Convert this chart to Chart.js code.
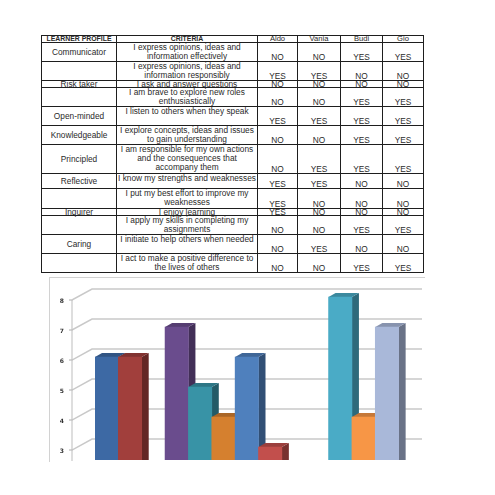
<!DOCTYPE html>
<html lang="en">
<head>
  <meta charset="UTF-8">
  <title>Learner profile</title>
  <script src="https://cdn.jsdelivr.net/npm/chart.js"></script>
  <style>
    body {
      margin: 0;
      width: 495px;
      height: 495px;
      background: #fff;
      position: relative;
      overflow: hidden;
      font-family: 'Liberation Sans', Arial, sans-serif;
      color: #2a2a2a;
    }

    #profile {
      position: absolute;
      left: 41px;
      top: 35px;
      width: 382px;
      border-collapse: collapse;
      table-layout: fixed;
      font-size: 8.3px;
      line-height: 9px;
    }

    #profile td {
      border: 1px solid #1e1e1e;
      padding: 0;
      text-align: center;
      overflow: hidden;
      white-space: pre;
    }

    #profile td.who { vertical-align: middle; }
    #profile td.crit { vertical-align: top; }
    #profile td.ans { vertical-align: bottom; line-height: 8px; }
    #profile tr.head td { font-weight: bold; font-size: 6.9px; line-height: 6px; vertical-align: middle; }
    #profile tr.head td.name { font-weight: normal; font-size: 7.6px; }
    #profile tr.thin td { line-height: 6px; vertical-align: middle; overflow: visible; }

    #frame {
      position: absolute;
      left: 49px;
      top: 277px;
      width: 375px;
      height: 184px;
      border-left: 1px solid #d2d2d2;
      border-top: 1px solid #d2d2d2;
      overflow: hidden;
    }

    #chart { display: block; }
  </style>
</head>
<body>
  <table id="profile">
    <colgroup>
      <col style="width:75px"><col style="width:141px"><col style="width:40px">
      <col style="width:43px"><col style="width:42px"><col style="width:41px">
    </colgroup>
    <tbody id="rows"></tbody>
  </table>

  <div id="frame">
    <canvas id="chart" width="373" height="184"></canvas>
  </div>

  <script>
    // table text
    const headers = ['LEARNER PROFILE', 'CRITERIA', 'Aldo', 'Vania', 'Budi', 'Gio'];
    const profiles = ['Communicator', '', 'Risk taker', '', 'Open-minded', 'Knowledgeable', 'Principled',
                      'Reflective', '', 'Inquirer', '', 'Caring', ''];
    const criteria = [
      'I express opinions, ideas and\ninformation effectively',
      'I express opinions, ideas and\ninformation responsibly',
      'I ask and answer questions',
      'I am brave to explore new roles\nenthusiastically',
      'I listen to others when they speak',
      'I explore concepts, ideas and issues\nto gain understanding',
      'I am responsible for my own actions\nand the consequences that\naccompany them',
      'I know my strengths and weaknesses',
      'I put my best effort to improve my\nweaknesses',
      'I enjoy learning',
      'I apply my skills in completing my\nassignments',
      'I initiate to help others when needed',
      'I act to make a positive difference to\nthe lives of others'
    ];
    const aldo  = ['NO', 'YES', 'NO', 'NO', 'YES', 'NO', 'NO', 'YES', 'YES', 'YES', 'NO', 'NO', 'NO'];
    const vania = ['NO', 'YES', 'NO', 'NO', 'YES', 'NO', 'YES', 'YES', 'NO', 'NO', 'NO', 'YES', 'NO'];
    const budi  = ['YES', 'NO', 'NO', 'YES', 'YES', 'YES', 'YES', 'NO', 'NO', 'NO', 'YES', 'NO', 'YES'];
    const gio   = ['YES', 'NO', 'NO', 'YES', 'YES', 'YES', 'YES', 'NO', 'NO', 'NO', 'YES', 'NO', 'YES'];
    const rowHeights = [19, 19, 7, 19, 19, 18, 29, 15, 20, 7, 19, 19, 19];

    // chart values
    const yTicks = [3, 4, 5, 6, 7, 8];
    const yMin = 2.57;
    const yMax = 8.4;
    const groupA = [6, 6];
    const groupB = [7, 5, 4, 6, 3];
    const groupC = [8, 4, 7];
    const colorsA = ['#3d69a4', '#a13f3c'];
    const colorsB = ['#6a4c8d', '#3893a6', '#d5802f', '#4f80bd', '#c24f4c'];
    const colorsC = ['#4aabc6', '#f79646', '#a9b8d9'];

    function buildTable() {
      const body = document.getElementById('rows');
      let html = '<tr class="head" style="height:7px">' + headers.map((h, i) =>
        `<td class="${i > 1 ? 'name' : ''}">${h}</td>`).join('') + '</tr>';
      profiles.forEach((p, i) => {
        const thin = rowHeights[i] < 10 ? ' class="thin"' : '';
        html += `<tr${thin} style="height:${rowHeights[i]}px">` +
          `<td class="who">${p}</td><td class="crit">${criteria[i]}</td>` +
          [aldo[i], vania[i], budi[i], gio[i]].map(a => `<td class="ans">${a}</td>`).join('') +
          '</tr>';
      });
      body.innerHTML = html;
    }
    buildTable();

    // slots: group, 1 empty, group, 2 empty, group, 1 empty
    const barValues = [...groupA, null, ...groupB, null, null, ...groupC, null];
    const barColors = [...colorsA, null, ...colorsB, null, null, ...colorsC, null];
    const slotLabels = barValues.map(() => '');

    function shade(hex, f) {
      const n = parseInt(hex.slice(1), 16);
      const r = Math.round(((n >> 16) & 255) * f);
      const g = Math.round(((n >> 8) & 255) * f);
      const b = Math.round((n & 255) * f);
      return `rgb(${r},${g},${b})`;
    }

    const DX = 7, DY = 4;

    const depth3d = {
      id: 'depth3d',
      beforeDatasetsDraw(chart) {
        const { ctx, chartArea: a, scales: { y } } = chart;
        ctx.save();
        // back wall grid + side wall diagonals
        ctx.strokeStyle = '#c9c9c9';
        ctx.lineWidth = 1.5;
        yTicks.forEach(v => {
          const py = y.getPixelForValue(v);
          ctx.beginPath();
          ctx.moveTo(a.left - 26, py + 3);
          ctx.lineTo(a.left - 23, py + 3);
          ctx.lineTo(a.left - 3, py - 8);
          ctx.lineTo(a.right, py - 8);
          ctx.stroke();
        });
        // front axis
        ctx.lineWidth = 1;
        ctx.strokeStyle = '#bdbdbd';
        ctx.beginPath();
        ctx.moveTo(a.left - 23, y.getPixelForValue(yTicks[yTicks.length - 1]) + 3);
        ctx.lineTo(a.left - 23, a.bottom + 1);
        ctx.stroke();

        // bar top and side faces
        const meta = chart.getDatasetMeta(0);
        meta.data.forEach((bar, i) => {
          if (barValues[i] == null) return;
          const p = bar.getProps(['x', 'y', 'base', 'width'], true);
          const x0 = p.x - p.width / 2, x1 = p.x + p.width / 2;
          const bottom = Math.min(p.base, a.bottom);
          const col = barColors[i];
          ctx.fillStyle = shade(col, 0.62);
          ctx.beginPath();
          ctx.moveTo(x1, p.y);
          ctx.lineTo(x1 + DX, p.y - DY);
          ctx.lineTo(x1 + DX, bottom);
          ctx.lineTo(x1, bottom);
          ctx.closePath();
          ctx.fill();
          ctx.fillStyle = shade(col, 0.8);
          ctx.beginPath();
          ctx.moveTo(x0, p.y);
          ctx.lineTo(x0 + DX, p.y - DY);
          ctx.lineTo(x1 + DX, p.y - DY);
          ctx.lineTo(x1, p.y);
          ctx.closePath();
          ctx.fill();
        });
        ctx.restore();
      }
    };

    new Chart(document.getElementById('chart'), {
      type: 'bar',
      data: {
        labels: slotLabels,
        datasets: [{
          data: barValues,
          backgroundColor: barColors,
          borderWidth: 0,
          barPercentage: 1,
          categoryPercentage: 1
        }]
      },
      options: {
        responsive: false,
        animation: false,
        layout: { padding: { top: 7, right: 1, bottom: 2, left: 0 } },
        plugins: { legend: { display: false }, tooltip: { enabled: false } },
        scales: {
          x: { display: false },
          y: {
            min: yMin,
            max: yMax,
            afterFit(scale) {
              scale.width = 45;
              scale.paddingTop = 0;
              scale.paddingBottom = 0;
            },
            afterBuildTicks(scale) { scale.ticks = yTicks.map(v => ({ value: v })); },
            grid: { display: false, drawTicks: true, tickLength: 31 },
            border: { display: false },
            ticks: {
              padding: 0,
              labelOffset: 4,
              color: '#333',
              font: { family: 'DejaVu Sans', size: 6, weight: 'bold' }
            }
          }
        }
      },
      plugins: [depth3d]
    });
  </script>
</body>
</html>
